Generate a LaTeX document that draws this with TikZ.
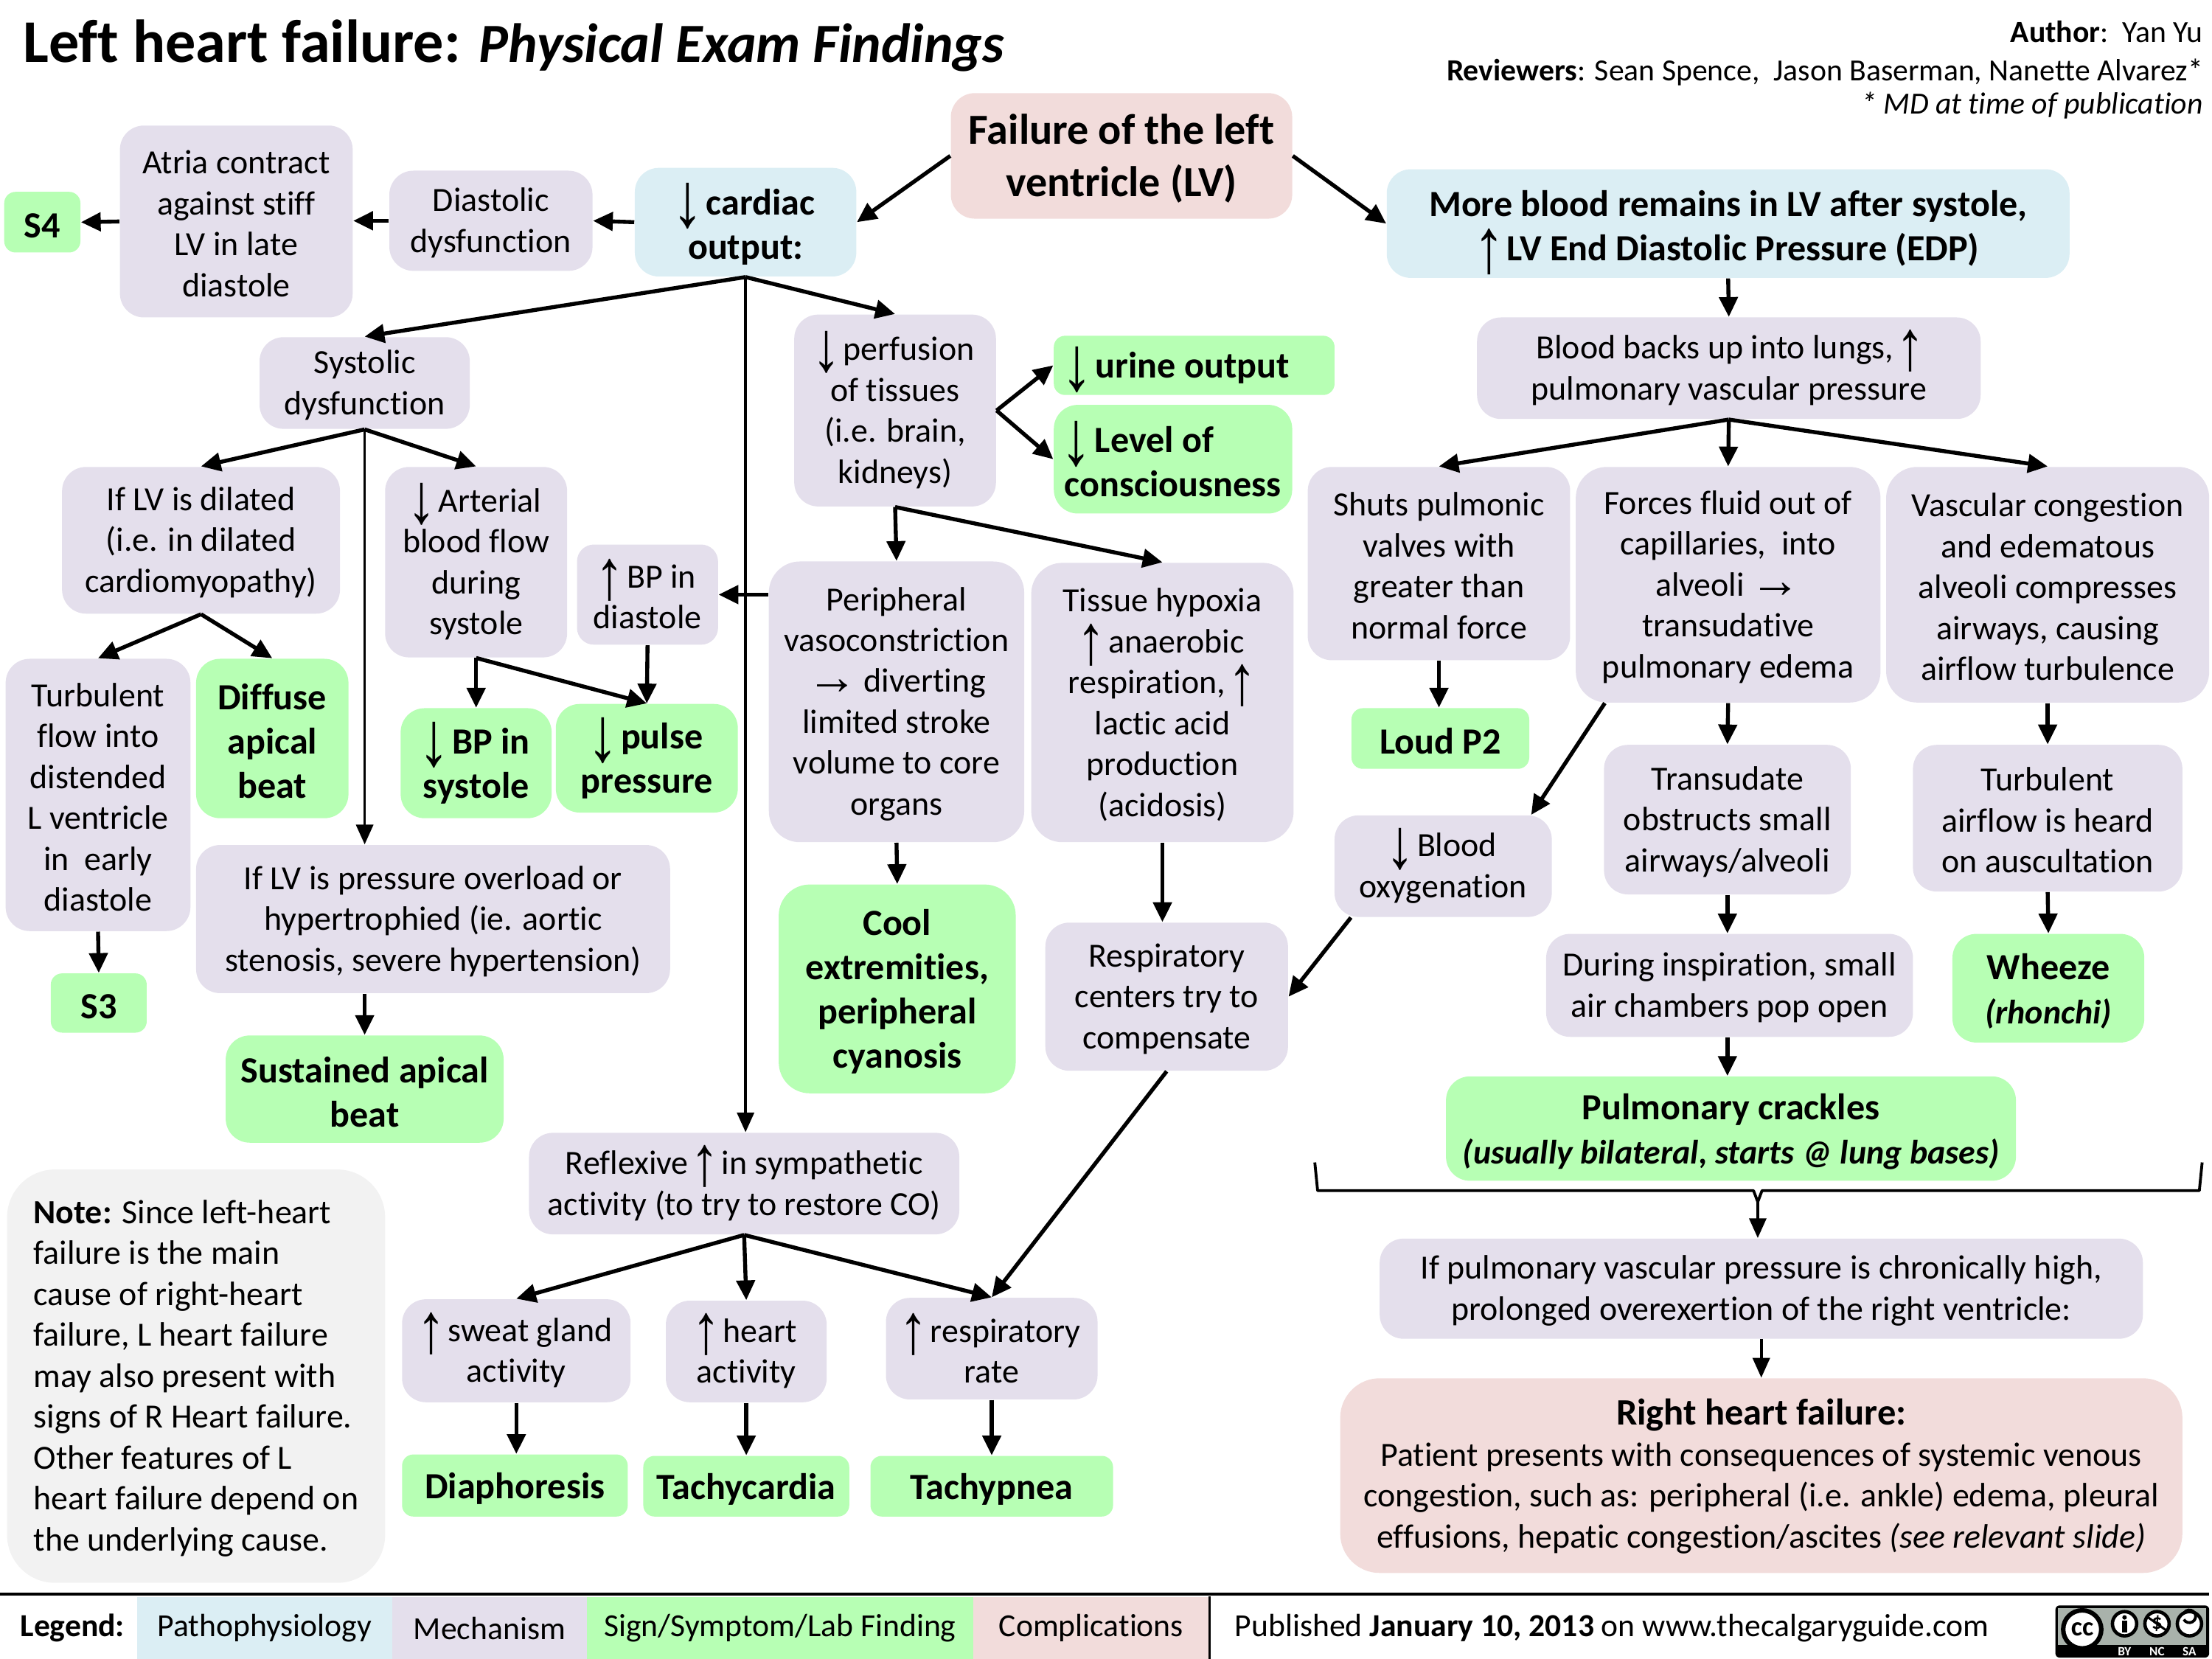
\documentclass[tikz,border=0pt]{standalone}
\usepackage{fontspec}
\setmainfont{Carlito}[Ligatures=NoCommon]
\newfontfamily\arrf{Liberation Sans}
\usetikzlibrary{arrows.meta}
\definecolor{cblue}{HTML}{DBEEF4}
\definecolor{cmech}{HTML}{E4DFEC}
\definecolor{cgreen}{HTML}{B7FFB4}
\definecolor{cpink}{HTML}{F2DCDB}
\definecolor{cnote}{HTML}{F2F2F2}
\definecolor{cbadge}{HTML}{A9B2AB}
\newcommand\dnar{\hspace*{-.1em}\smash{\raisebox{-.33em}{\scalebox{1.7}[2.1]{\arrf\mdseries\char"2193}}}\hspace*{-.1em}}
\newcommand\upar{\hspace*{-.1em}\smash{\raisebox{-.33em}{\scalebox{1.7}[2.1]{\arrf\mdseries\char"2191}}}\hspace*{-.1em}}
\newcommand\rtar{\smash{\raisebox{-.05em}{\scalebox{1.5}[1.5]{\arrf\bfseries\char"2192}}}}
\def\bxr{.82em}
\newcommand\fbody{\fontsize{12}{14.5}\selectfont\def\bxr{.82em}}
\newcommand\fbold{\fontsize{13.1}{15.7}\selectfont\bfseries\def\bxr{.85em}}
\newcommand\fbluebold{\fontsize{13.1}{15.7}\selectfont\bfseries\def\bxr{.95em}}
\newcommand\fsmall{\fontsize{11.4}{14.5}\selectfont\def\bxr{.7em}}
\newcommand\fhead{\fontsize{10.9}{13}\selectfont}
\newcommand\bx[7]{%
 \pgfmathsetmacro\bxcx{(#3+#5)/2}\pgfmathsetmacro\bxcy{(#4+#6)/2}%
 \pgfmathsetmacro\bxw{(#5-#3)*0.5}\pgfmathsetmacro\bxh{(#6-#4)*0.5}%
 \node[box,#2,minimum width=\bxw pt,minimum height=\bxh pt] (#1) at (\bxcx,\bxcy) {\rule{0pt}{\bxr}#7};}
\tikzset{
 box/.style={inner sep=0pt,align=center,rounded corners=8.5pt,font=\fbody},
 pbox/.style={box,fill=cblue},
 mech/.style={box,fill=cmech},
 sgn/.style={box,fill=cgreen,font=\fbold},
 comp/.style={box,fill=cpink},
 arr/.style={line width=1.4pt,-{Triangle[length=7pt,width=6.5pt]}},
 arrthin/.style={line width=1pt,-{Triangle[length=7pt,width=6pt]}},
 txt/.style={inner sep=0pt,anchor=base west,font=\fsmall},
 legendbox/.style={inner sep=0pt,rounded corners=0pt,font=\fsmall},
}
\begin{document}
\begin{tikzpicture}[x=.5pt,y=-.5pt]
\useasboundingbox (0,0) rectangle (1568,1176);
% title block
\node[txt,font=\fontsize{21.5}{24}\selectfont\bfseries] (title) at (16,44) {Left heart failure: {\fontsize{19.6}{24}\selectfont\textit{Physical Exam Findings}}};
\node[inner sep=0pt,anchor=base east,font=\fhead] (auth) at (1562,30) {\textbf{Author}:\ \ Yan Yu};
\node[inner sep=0pt,anchor=base east,font=\fhead] (revs) at (1562,57) {\textbf{Reviewers}: Sean Spence,\ \ Jason Baserman, Nanette Alvarez*};
\node[inner sep=0pt,anchor=base east,font=\fhead] (md) at (1562,81) {\textit{* MD at time of publication}};
% boxes
\bx{lv}{comp,font=\fontsize{15.2}{18.5}\selectfont\bfseries}{674}{66}{916}{155}{Failure of the left\\ventricle (LV)}
\bx{co}{pbox,font=\fbluebold}{450}{119}{607}{196}{\dnar\,cardiac\\output:}
\bx{diast}{mech}{276}{121}{420}{192}{Diastolic\\dysfunction}
\bx{atria}{mech}{85}{89}{250}{225}{Atria contract\\against stiff\\LV in late\\diastole}
\bx{sfour}{sgn,rounded corners=4pt}{3}{136}{57}{179}{S4}
\bx{more}{pbox,font=\fbluebold}{983}{120}{1467}{197}{More blood remains in LV after systole,\\\upar\,LV End Diastolic Pressure (EDP)}
\bx{backs}{mech}{1047}{225}{1404}{297}{Blood backs up into lungs,\,\upar\\pulmonary vascular pressure}
\bx{syst}{mech}{184}{239}{333}{304}{Systolic\\dysfunction}
\bx{perf}{mech}{563}{223}{706}{359}{\dnar\,perfusion\\of tissues\\(i.e. brain,\\kidneys)}
\bx{urine}{sgn,rounded corners=4pt}{747}{238}{946}{280}{\dnar\,urine output\hspace*{12pt}}
\bx{loc}{sgn,align=left}{747}{287}{916}{364}{\dnar\,Level of\\consciousness}
\bx{dilated}{mech}{44}{331}{241}{435}{If LV is dilated\\(i.e. in dilated\\cardiomyopathy)}
\bx{arterial}{mech}{273}{331}{402}{466}{\dnar\,Arterial\\blood flow\\during\\systole}
\bx{bpd}{mech,rounded corners=6pt}{409}{386}{509}{457}{\upar\,BP in\\diastole}
\bx{periph}{mech,rounded corners=11pt}{545}{398}{726}{597}{Peripheral\\vasoconstriction\\\rtar\,diverting\\limited stroke\\volume to core\\organs}
\bx{hypoxia}{mech,rounded corners=11pt}{731}{399}{917}{597}{Tissue hypoxia\\\upar\,anaerobic\\respiration,\,\upar\\lactic acid\\production\\(acidosis)}
\bx{shuts}{mech}{927}{331}{1113}{468}{Shuts pulmonic\\valves with\\greater than\\normal force}
\bx{forces}{mech,rounded corners=11pt}{1117}{331}{1333}{498}{Forces fluid out of\\capillaries,\ \ into\\alveoli\,\rtar\\transudative\\pulmonary edema}
\bx{vasc}{mech,rounded corners=11pt}{1337}{331}{1566}{498}{Vascular congestion\\and edematous\\alveoli compresses\\airways, causing\\airflow turbulence}
\bx{turb}{mech}{4}{467}{135}{660}{Turbulent\\flow into\\distended\\L ventricle\\in\ \ early\\diastole}
\bx{diffuse}{sgn}{139}{467}{247}{580}{Diffuse\\apical\\beat}
\bx{bps}{sgn}{284}{502}{391}{580}{\dnar\,BP in\\systole}
\bx{pulse}{sgn}{394}{499}{523}{576}{\dnar\,pulse\\pressure}
\bx{loud}{sgn,rounded corners=4pt}{958}{502}{1084}{545}{Loud P2}
\bx{blood}{mech}{946}{578}{1100}{650}{\dnar\,Blood\\oxygenation}
\bx{transu}{mech}{1137}{528}{1312}{634}{Transudate\\obstructs small\\airways/alveoli}
\bx{turbair}{mech}{1356}{528}{1547}{632}{Turbulent\\airflow is heard\\on auscultation}
\bx{over}{mech}{139}{599}{475}{704}{If LV is pressure overload or\\hypertrophied (ie. aortic\\stenosis, severe hypertension)}
\bx{cool}{sgn,rounded corners=11pt}{552}{627}{720}{775}{Cool\\extremities,\\peripheral\\cyanosis}
\bx{resp}{mech}{741}{654}{913}{759}{Respiratory\\centers try to\\compensate}
\bx{inspir}{mech}{1096}{662}{1356}{735}{During inspiration, small\\air chambers pop open}
\bx{wheeze}{sgn}{1384}{662}{1520}{739}{Wheeze\\{\fontsize{12}{15.7}\selectfont\textit{(rhonchi)}}}
\bx{sthree}{sgn,rounded corners=4pt}{36}{690}{104}{732}{S3}
\bx{sust}{sgn}{160}{734}{357}{810}{Sustained apical\\beat}
\bx{crack}{sgn}{1025}{763}{1429}{837}{Pulmonary crackles\\{\fontsize{12}{15.7}\selectfont\textit{(usually bilateral, starts @ lung bases)}}}
\bx{note}{box,fill=cnote,rounded corners=17pt,align=left}{5}{829}{273}{1122}{\textbf{Note:} Since left-heart\\failure is the main\\cause of right-heart\\failure, L heart failure\\may also present with\\signs of R Heart failure.\\Other features of L\\heart failure depend on\\the underlying cause.}
\bx{reflex}{mech}{375}{803}{680}{875}{Reflexive\,\upar\,in sympathetic\\activity (to try to restore CO)}
\bx{ifpulm}{mech}{978}{878}{1519}{949}{If pulmonary vascular pressure is chronically high,\\prolonged overexertion of the right ventricle:}
\bx{sweat}{mech}{285}{921}{447}{994}{\upar\,sweat gland\\activity}
\bx{hact}{mech}{472}{922}{586}{994}{\upar\,heart\\activity}
\bx{rrate}{mech}{628}{920}{778}{992}{\upar\,respiratory\\rate}
\bx{diaph}{sgn,rounded corners=4pt}{285}{1031}{445}{1075}{Diaphoresis}
\bx{tachy}{sgn,rounded corners=4pt}{456}{1032}{602}{1075}{Tachycardia}
\bx{tachyp}{sgn,rounded corners=4pt}{617}{1032}{789}{1075}{Tachypnea}
\bx{right}{comp,rounded corners=14pt}{950}{977}{1547}{1115}{{\fontsize{13.2}{16}\selectfont\textbf{Right heart failure:}}\\Patient presents with consequences of systemic venous\\congestion, such as: peripheral (i.e. ankle) edema, pleural\\effusions, hepatic congestion/ascites \textit{(see relevant slide)}}
% connectors
\draw[arr] (lv.west) -- (co.east);
\draw[arr] (lv.east) -- (more.west);
\draw[arr] (co.west) -- (diast.east);
\draw[arr] (diast.west) -- (diast.west -| atria.east);
\draw[arr] (atria.west) -- (sfour.east);
\draw[arr] (co.south) -- (syst.north);
\draw[arr] (co.south) -- (perf.north);
\draw[arrthin] (co.south) -- (co.south |- reflex.north);
\draw[arr] (periph.west |- bpd.east) -- (bpd.east);
\draw[arr] (syst.south) -- (dilated.north);
\draw[arr] (syst.south) -- (arterial.north);
\draw[arrthin] (syst.south) -- (syst.south |- over.north);
\draw[arr] (dilated.south) -- (turb.north);
\draw[arr] (dilated.south) -- (diffuse.north);
\draw[arr] (turb.south) -- (sthree.north);
\draw[arr] (arterial.south) -- (bps.north);
\draw[arr] (arterial.south) -- (pulse.north);
\draw[arr] (bpd.south) -- (pulse.north);
\draw[arr] (over.south -| syst.south) -- (sust.north);
\draw[arr] (perf.east) -- (urine.west);
\draw[arr] (perf.east) -- (loc.west);
\draw[arr] (perf.south) -- (periph.north);
\draw[arr] (perf.south) -- (hypoxia.north);
\draw[arr] (periph.south) -- (cool.north);
\draw[arr] (hypoxia.south) -- (hypoxia.south |- resp.north);
\draw[arr] (resp.south) -- (rrate.north);
\draw[arr] ([shift={(12,0)}]blood.south west) -- (resp.east);
\draw[arr] ([shift={(21,0)}]forces.south west) -- ([shift={(-15,0)}]blood.north east);
\draw[arr] (more.south) -- (backs.north);
\draw[arr] (backs.south) -- (shuts.north);
\draw[arr] (backs.south) -- (forces.north);
\draw[arr] (backs.south) -- (vasc.north);
\draw[arr] (shuts.south) -- (loud.north -| shuts.south);
\draw[arr] (forces.south) -- (transu.north);
\draw[arr] (transu.south) -- (transu.south |- inspir.north);
\draw[arr] (transu.south |- inspir.south) -- (transu.south |- crack.north);
\draw[arr] (vasc.south) -- (turbair.north);
\draw[arr] (turbair.south) -- (wheeze.north);
\draw[arr] (reflex.south) -- (sweat.north);
\draw[arr] (reflex.south) -- (hact.north);
\draw[arr] (reflex.south) -- (rrate.north);
\draw[arr] (sweat.south) -- (sweat.south |- diaph.north);
\draw[arr] (hact.south) -- (hact.south |- tachy.north);
\draw[arr] (rrate.south) -- (rrate.south |- tachyp.north);
\draw[arrthin] (ifpulm.south -| right.north) -- (right.north);
% brace
\coordinate (braceL) at (932,824);
\coordinate (braceR) at (1561,824);
\coordinate (braceM) at (1246,850);
\draw[line width=1pt,line join=round] (braceL) -- (934,844) -- (1243,844) -- (1246,852) -- (1249,844) -- (1559,844) -- (braceR);
\draw[arrthin] (braceM) -- (braceM |- ifpulm.north);
% legend
\draw[line width=1.2pt] (0,1130) -- (1566,1130);
\bx{lp}{legendbox,fill=cblue}{97}{1132}{278}{1176}{Pathophysiology}
\bx{lm}{legendbox,fill=cmech}{278}{1132}{416}{1176}{Mechanism}
\bx{ls}{legendbox,fill=cgreen}{416}{1132}{690}{1176}{Sign/Symptom/Lab Finding}
\bx{lc}{legendbox,fill=cpink}{690}{1132}{857}{1176}{Complications}
\draw[line width=.8pt] (lc.north east) -- (lc.south east);
\node[txt] (lg) at (14,1160) {\textbf{Legend:}};
\node[txt] (pub) at (875,1160) {Published \textbf{January 10, 2013} on www.thecalgaryguide.com};
% CC badge
\fill[black,rounded corners=1.5pt] (1457,1138) rectangle (1566,1175);
\fill[cbadge] (1459,1140) rectangle (1564,1166);
\filldraw[fill=white,draw=black,line width=1.6pt] (1476,1155) circle (13.5);
\node[inner sep=0pt,font=\fontsize{9.5}{10}\selectfont\bfseries] (cc) at (1476,1155) {cc};
\filldraw[fill=white,draw=black,line width=1.2pt] (1506,1151) circle (8.6);
\filldraw[fill=white,draw=black,line width=1.2pt] (1529,1151) circle (8.6);
\filldraw[fill=white,draw=black,line width=1.2pt] (1552,1151) circle (8.6);
\fill (1506,1146.5) circle (1.6);
\fill (1504,1149) rectangle (1508,1157);
\node[inner sep=0pt,font=\fontsize{7.5}{8}\selectfont\bfseries] (ncs) at (1529,1151) {\$};
\draw[line width=.8pt] (1522,1146) -- (1536,1156);
\draw[line width=1pt] (1548,1148) arc (150:-150:4.5);
\node[inner sep=0pt,text=white,font=\fontsize{4.5}{5}\selectfont\bfseries] (by) at (1506,1170.5) {BY};
\node[inner sep=0pt,text=white,font=\fontsize{4.5}{5}\selectfont\bfseries] (nc) at (1529,1170.5) {NC};
\node[inner sep=0pt,text=white,font=\fontsize{4.5}{5}\selectfont\bfseries] (sa) at (1552,1170.5) {SA};
\end{tikzpicture}
\end{document}
